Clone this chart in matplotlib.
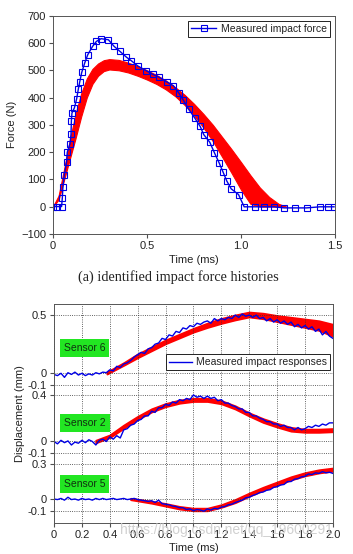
import numpy as np
import matplotlib
matplotlib.use("Agg")
import matplotlib.pyplot as plt

plt.rcParams['font.family'] = ['Liberation Sans', 'DejaVu Sans']
plt.rcParams['font.size'] = 8
plt.rcParams['text.color'] = '#222222'
plt.rcParams['xtick.color'] = '#505050'
plt.rcParams['ytick.color'] = '#505050'
plt.rcParams['xtick.labelcolor'] = '#222222'
plt.rcParams['ytick.labelcolor'] = '#222222'
plt.rcParams['axes.labelcolor'] = '#222222'

# ---- (a) impact force ----
force_t = [0, 0.021, 0.046, 0.050, 0.053, 0.060, 0.073, 0.076, 0.091, 0.096, 0.098,
           0.101, 0.114, 0.126, 0.135, 0.142, 0.153, 0.169, 0.185, 0.211, 0.231,
           0.256, 0.295, 0.325, 0.357, 0.391, 0.417, 0.451, 0.497, 0.531, 0.563,
           0.604, 0.641, 0.669, 0.694, 0.721, 0.754, 0.783, 0.802, 0.834, 0.859,
           0.884, 0.905, 0.925, 0.948, 0.987, 1.017, 1.072, 1.124, 1.175, 1.230,
           1.287, 1.349, 1.420, 1.461, 1.495]
force_meas = [0, 0, 0, 33, 72, 114, 164, 199, 231, 265, 314,
              343, 362, 395, 431, 456, 492, 527, 557, 588, 606,
              616, 612, 588, 569, 548, 535, 516, 498, 485, 475,
              458, 443, 417, 390, 358, 325, 294, 264, 236, 197,
              160, 126, 93, 65, 44, -1, -1, -1, -1, -5,
              -5, -5, -1, -1, -1]

# envelope of the identified force histories
band_t = [0, 0.03, 0.06, 0.09, 0.12, 0.15, 0.18, 0.21, 0.24, 0.27, 0.30, 0.35, 0.40,
          0.45, 0.50, 0.55, 0.60, 0.65, 0.70, 0.75, 0.80, 0.85, 0.90, 0.95, 1.00,
          1.05, 1.10, 1.15, 1.20, 1.24]
band_hi = [0, 40, 140, 245, 340, 415, 470, 505, 525, 537, 541, 538, 528,
           515, 500, 483, 463, 438, 410, 377, 340, 300, 255, 210, 163,
           115, 70, 35, 10, 0]
band_lo = [0, 25, 100, 175, 250, 330, 400, 450, 480, 497, 503, 500, 492,
           480, 466, 450, 430, 405, 373, 335, 290, 240, 182, 123, 62,
           10, 0, 0, 0, 0]

# ---- (b) displacement responses ----
resp_t = np.round(np.arange(0, 2.0001, 0.025), 3)
sensor6 = [-0.010, -0.020, 0.000, -0.035, 0.005, -0.010, 0.010, -0.015, 0.000, -0.020,
           -0.005, -0.015, 0.005, -0.005, 0.010, 0.005, 0.030, 0.020, 0.060, 0.050,
           0.080, 0.090, 0.110, 0.140, 0.160, 0.180, 0.170, 0.210, 0.220, 0.250,
           0.260, 0.300, 0.290, 0.330, 0.320, 0.360, 0.350, 0.390, 0.380, 0.410,
           0.400, 0.430, 0.420, 0.440, 0.450, 0.430, 0.470, 0.450, 0.470, 0.460,
           0.480, 0.470, 0.500, 0.480, 0.510, 0.490, 0.500, 0.480, 0.500, 0.470,
           0.480, 0.450, 0.470, 0.440, 0.460, 0.430, 0.450, 0.420, 0.440, 0.400,
           0.420, 0.390, 0.410, 0.380, 0.400, 0.360, 0.380, 0.330, 0.360, 0.320,
           0.300]
sensor2 = [0.000, -0.020, 0.010, -0.010, 0.005, -0.030, -0.005, -0.015, 0.010, -0.010,
           0.015, 0.000, -0.030, 0.010, 0.020, 0.000, 0.040, 0.020, 0.050, 0.030,
           0.100, 0.110, 0.140, 0.150, 0.180, 0.190, 0.220, 0.220, 0.260, 0.250,
           0.290, 0.290, 0.320, 0.310, 0.340, 0.330, 0.360, 0.350, 0.370, 0.360,
           0.400, 0.380, 0.390, 0.370, 0.390, 0.370, 0.380, 0.350, 0.360, 0.330,
           0.330, 0.310, 0.300, 0.280, 0.280, 0.250, 0.250, 0.220, 0.220, 0.200,
           0.190, 0.170, 0.170, 0.150, 0.150, 0.130, 0.140, 0.120, 0.120, 0.100,
           0.120, 0.100, 0.110, 0.130, 0.120, 0.140, 0.130, 0.150, 0.140, 0.160,
           0.160]
sensor5 = [0.000, -0.005, 0.005, -0.010, 0.015, -0.005, 0.000, -0.010, 0.005, -0.005,
           0.000, -0.010, 0.005, -0.005, 0.005, -0.005, 0.000, 0.005, -0.005, 0.000,
           0.005, -0.005, 0.000, 0.005, -0.005, -0.010, -0.015, -0.020, -0.015, -0.030,
           -0.010, -0.040, -0.045, -0.050, -0.060, -0.065, -0.075, -0.075, -0.090, -0.085,
           -0.100, -0.090, -0.095, -0.105, -0.085, -0.095, -0.080, -0.085, -0.070, -0.065,
           -0.050, -0.045, -0.030, -0.020, -0.010, 0.010, 0.015, 0.030, 0.040, 0.055,
           0.060, 0.075, 0.080, 0.100, 0.105, 0.120, 0.125, 0.150, 0.150, 0.170,
           0.175, 0.190, 0.195, 0.215, 0.210, 0.225, 0.220, 0.235, 0.225, 0.230,
           0.220]

id6_t = [0.38, 0.5, 0.6, 0.7, 0.8, 0.9, 1.0, 1.1, 1.2, 1.3, 1.4, 1.5, 1.6, 1.7, 1.8, 1.9, 2.0]
id6_hi = [0.01, 0.09, 0.165, 0.225, 0.285, 0.335, 0.385, 0.43, 0.47, 0.50, 0.525, 0.515,
          0.495, 0.48, 0.465, 0.45, 0.42]
id6_lo = [-0.005, 0.07, 0.135, 0.195, 0.255, 0.305, 0.355, 0.395, 0.43, 0.46, 0.485, 0.47,
          0.445, 0.42, 0.395, 0.37, 0.32]

id2_t = [0.3, 0.4, 0.5, 0.6, 0.7, 0.8, 0.9, 1.0, 1.1, 1.2, 1.3, 1.4, 1.5, 1.6, 1.7, 1.8, 1.9, 2.0]
id2_hi = [0.01, 0.055, 0.14, 0.215, 0.28, 0.325, 0.355, 0.37, 0.37, 0.35, 0.305, 0.245,
          0.195, 0.155, 0.12, 0.105, 0.105, 0.11]
id2_lo = [-0.01, 0.035, 0.115, 0.19, 0.255, 0.3, 0.33, 0.345, 0.345, 0.325, 0.28, 0.22,
          0.165, 0.125, 0.09, 0.08, 0.08, 0.085]

id5_t = [0.55, 0.7, 0.8, 0.9, 1.0, 1.1, 1.2, 1.3, 1.4, 1.5, 1.6, 1.7, 1.8, 1.9, 2.0]
id5_hi = [0.005, -0.02, -0.04, -0.065, -0.08, -0.08, -0.05, -0.005, 0.05, 0.10, 0.145,
          0.19, 0.225, 0.25, 0.265]
id5_lo = [-0.005, -0.035, -0.06, -0.085, -0.1, -0.1, -0.07, -0.03, 0.025, 0.075, 0.12,
          0.165, 0.2, 0.225, 0.24]

sensor_names = ['Sensor 6', 'Sensor 2', 'Sensor 5']
sensor_top = [0.5, 0.4, 0.3]

# vertical offsets used to stack the three sensors in one axes
offsets = [0.0, -0.586, -1.08]
label_y = [0.217, 0.157, 0.126]

BLUE = '#0000e6'
RED = '#ff0000'
SPINE = '#555555'

fig = plt.figure(figsize=(3.53, 5.54), dpi=100)

# ---- top panel ----
ax1 = fig.add_axes([0.150, 0.578, 0.799, 0.3935])
ax1.fill_between(band_t, band_lo, band_hi, color=RED, lw=0.8, edgecolor=RED)
ax1.plot(force_t, force_meas, color=BLUE, lw=1.0, marker='s', ms=3.8,
         mfc='none', mew=0.8, label='Measured impact force')
ax1.set_xlim(0, 1.5)
ax1.set_ylim(-100, 700)
ax1.set_xticks([0, 0.5, 1.0, 1.5])
ax1.set_xticklabels(['0', '0.5', '1.0', '1.5'])
ax1.set_yticks(range(-100, 701, 100))
ax1.set_xlabel('Time (ms)', labelpad=3)
ax1.set_ylabel('Force (N)', labelpad=3)
ax1.tick_params(direction='out', length=3, pad=2)
for s in ax1.spines.values():
    s.set_color(SPINE)
    s.set_linewidth(0.7)
leg1 = ax1.legend(loc='upper right', fontsize=7.5, handlelength=2.4, borderaxespad=0.5,
                  fancybox=False, edgecolor='#222222', framealpha=1,
                  borderpad=0.3, handletextpad=0.4)
leg1.get_frame().set_linewidth(0.7)

fig.text(0.505, 0.5, '(a) identified impact force histories', ha='center', va='center',
         fontsize=10.3, family=['Liberation Serif', 'DejaVu Serif'])

# ---- bottom panel ----
ax2 = fig.add_axes([0.153, 0.056, 0.790, 0.395])
series = [(sensor6, id6_t, id6_lo, id6_hi), (sensor2, id2_t, id2_lo, id2_hi),
          (sensor5, id5_t, id5_lo, id5_hi)]
for (meas, it, lo, hi), off in zip(series, offsets):
    ax2.fill_between(it, np.array(lo) + off, np.array(hi) + off, color=RED,
                     edgecolor=RED, lw=1.5)
for i, ((meas, it, lo, hi), off) in enumerate(zip(series, offsets)):
    ax2.plot(resp_t, np.array(meas) + off, color=BLUE, lw=1.0,
             label='Measured impact responses' if i == 0 else None)

yt, yl = [], []
for top, off in zip(sensor_top, offsets):
    yt += [top + off, off, off - 0.1]
    yl += [str(top), '0', '-0.1']
ax2.set_yticks(yt)
ax2.set_yticklabels(yl)
ax2.set_ylim(-1.286, 0.594)
ax2.set_xlim(0, 2.0)
ax2.set_xticks(np.round(np.arange(0, 2.01, 0.2), 1))
ax2.set_xticklabels(['0'] + ['%.1f' % v for v in np.arange(0.2, 2.01, 0.2)])
ax2.grid(True, color='#303030', linestyle=':', linewidth=0.6)
ax2.set_xlabel('Time (ms)', labelpad=2)
ax2.set_ylabel('Displacement (mm)', labelpad=2)
ax2.tick_params(direction='out', length=3, pad=2)
for s in ax2.spines.values():
    s.set_color(SPINE)
    s.set_linewidth(0.7)

for name, off, ly in zip(sensor_names, offsets, label_y):
    ax2.text(0.07, off + ly, name, ha='left', va='center', fontsize=7.5, color='#103010',
             bbox=dict(boxstyle='square,pad=0.4', facecolor='#22e622', edgecolor='none'))

leg2 = ax2.legend(loc='lower right', bbox_to_anchor=(1.0, 0.685), fontsize=7.5,
                  handlelength=2.2, borderaxespad=0.25, fancybox=False, edgecolor='#222222',
                  framealpha=1, borderpad=0.3, handletextpad=0.4)
leg2.get_frame().set_linewidth(0.7)

fig.text(0.64, 0.043, 'https://blog.csdn.net/qq_19600291', ha='center', va='center',
         fontsize=10, color='#cccccc', alpha=0.9)

fig.savefig('out.png', dpi=100)
